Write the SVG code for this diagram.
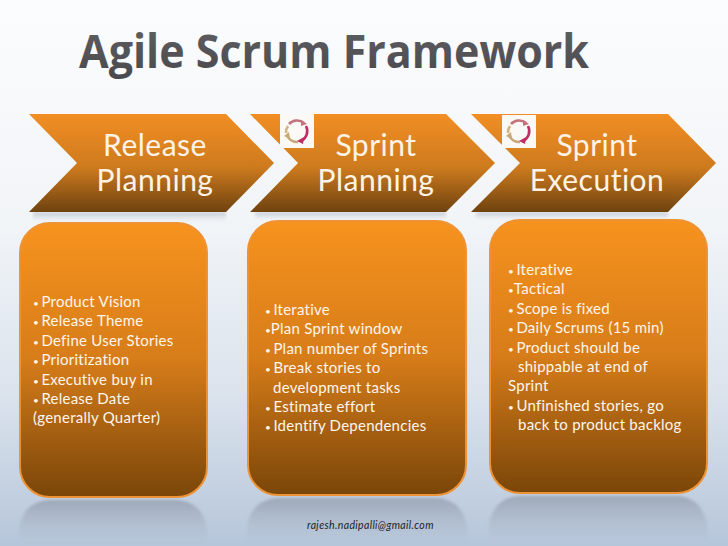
<svg xmlns="http://www.w3.org/2000/svg" width="728" height="546" viewBox="0 0 728 546">
<defs>
<linearGradient id="bg" x1="0" y1="0" x2="0" y2="1"><stop offset="0" stop-color="#fbfcfd"/><stop offset="0.4" stop-color="#f2f5f8"/><stop offset="0.72" stop-color="#dbe3ed"/><stop offset="1" stop-color="#b6c6da"/></linearGradient>
<linearGradient id="chev" x1="0" y1="0" x2="0" y2="1"><stop offset="0" stop-color="#f28e24"/><stop offset="0.55" stop-color="#cd7a1e"/><stop offset="1" stop-color="#6e420f"/></linearGradient>
<linearGradient id="box" x1="0" y1="0" x2="0" y2="1"><stop offset="0" stop-color="#f7931e"/><stop offset="0.5" stop-color="#d67c19"/><stop offset="1" stop-color="#7a4609"/></linearGradient>
<linearGradient id="refl" x1="0" y1="0" x2="0" y2="1"><stop offset="0" stop-color="#8d97a5" stop-opacity="0.7"/><stop offset="1" stop-color="#a9b7ca" stop-opacity="0"/></linearGradient>
<linearGradient id="shadow" x1="0" y1="0" x2="0" y2="1"><stop offset="0" stop-color="#9aa3ae" stop-opacity="0.55"/><stop offset="1" stop-color="#c0c8d2" stop-opacity="0"/></linearGradient>
<linearGradient id="title" x1="0" y1="0" x2="0" y2="1"><stop offset="0" stop-color="#626266"/><stop offset="1" stop-color="#48484c"/></linearGradient>
<filter id="soft" x="-5%" y="-10%" width="110%" height="120%"><feGaussianBlur stdDeviation="1.5"/></filter>
<g id="cycle" fill="none" stroke-width="2.6">
<path d="M-8 -7A11 11 0 0 1 7 -8" stroke="#c4727c"/>
<path d="M9 -5A11 11 0 0 1 4 10" stroke="#bf2f62"/>
<path d="M1 11A11 11 0 0 1 -10 4" stroke="#c9a877"/>
<path d="M-11 2A11 11 0 0 1 -9 -5" stroke="#d3b483"/>
<path d="M4 -11L10 -7L4 -5Z" fill="#c4727c" stroke="none"/>
<path d="M7 6L6 13L0 10Z" fill="#bf2f62" stroke="none"/>
<path d="M-7 8L-13 5L-8 1Z" fill="#c9a877" stroke="none"/>
</g>
</defs>
<style>
.big{font-family:"Lato","Open Sans",sans-serif;font-size:30px;fill:#fdf3e6;text-anchor:middle;letter-spacing:.5px}
.item{font-family:"Lato","Open Sans",sans-serif;font-size:15px;letter-spacing:.25px;fill:#fdf6ec}
.b{font-size:10px;letter-spacing:0}
.mail{font-family:"Lato","Open Sans",sans-serif;font-size:10.5px;font-style:italic;letter-spacing:.35px;fill:#222}
.ttl{font-family:"Open Sans","Noto Sans",sans-serif;font-size:47px;font-weight:700;fill:url(#title)}
.bx{fill:url(#box);stroke:#ee9236;stroke-width:2}
</style>
<rect width="728" height="546" fill="url(#bg)"/>
<text class="ttl" x="79" y="68" textLength="510" lengthAdjust="spacingAndGlyphs">Agile Scrum Framework</text>
<g id="connectors"/>
<g id="reflections" filter="url(#soft)">
<path d="M19 546V530Q22 503 48 500H178Q204 503 207 530V546Z" fill="url(#refl)"/>
<path d="M247 546V528Q250 501 276 498H438Q464 501 467 528V546Z" fill="url(#refl)"/>
<path d="M489 546V526Q492 499 518 496H678Q704 499 707 526V546Z" fill="url(#refl)"/>
<rect x="33" y="212" width="193" height="10" fill="url(#shadow)"/>
<rect x="255" y="212" width="191" height="8" fill="url(#shadow)"/>
<rect x="476" y="212" width="192" height="8" fill="url(#shadow)"/>
</g>
<g id="release-planning">
<path d="M29 114H226L274 163L226 212H29L77 163Z" fill="url(#chev)"/>
<text class="big" x="155" y="156">Release</text>
<text class="big" x="155" y="191">Planning</text>
</g>
<g id="sprint-planning">
<path d="M250 114H446L495 163L446 212H250L298 163Z" fill="url(#chev)"/>
<rect x="280" y="114" width="34" height="34" fill="#fbf9f6"/>
<use href="#cycle" x="297" y="131"/>
<text class="big" x="376" y="156">Sprint</text>
<text class="big" x="376" y="191">Planning</text>
</g>
<g id="sprint-execution">
<path d="M471 114H668L716 163L668 212H471L520 163Z" fill="url(#chev)"/>
<rect x="502" y="115" width="34" height="33" fill="#fbf9f6"/>
<use href="#cycle" x="519" y="131"/>
<text class="big" x="597" y="156">Sprint</text>
<text class="big" x="597" y="191">Execution</text>
</g>
<g id="box-release">
<rect class="bx" x="20" y="223" width="187" height="274" rx="30"/>
<g class="item">
<text x="33" y="307"><tspan class="b">• </tspan>Product Vision</text>
<text x="33" y="326"><tspan class="b">• </tspan>Release Theme</text>
<text x="33" y="346"><tspan class="b">• </tspan>Define User Stories</text>
<text x="33" y="365"><tspan class="b">• </tspan>Prioritization</text>
<text x="33" y="385"><tspan class="b">• </tspan>Executive buy in</text>
<text x="33" y="404"><tspan class="b">• </tspan>Release Date</text>
<text x="33" y="423">(generally Quarter)</text>
</g>
</g>
<g id="box-sprint-planning">
<rect class="bx" x="248" y="221" width="218" height="274" rx="30"/>
<g class="item">
<text x="265" y="315"><tspan class="b">• </tspan>Iterative</text>
<text x="265" y="334"><tspan class="b">•</tspan>Plan Sprint window</text>
<text x="265" y="354"><tspan class="b">• </tspan>Plan number of Sprints</text>
<text x="265" y="373"><tspan class="b">• </tspan>Break stories to</text>
<text x="273" y="393">development tasks</text>
<text x="265" y="412"><tspan class="b">• </tspan>Estimate effort</text>
<text x="265" y="431"><tspan class="b">• </tspan>Identify Dependencies</text>
</g>
</g>
<g id="box-sprint-execution">
<rect class="bx" x="490" y="220" width="217" height="273" rx="30"/>
<g class="item">
<text x="508" y="275"><tspan class="b">• </tspan>Iterative</text>
<text x="508" y="294"><tspan class="b">•</tspan>Tactical</text>
<text x="508" y="314"><tspan class="b">• </tspan>Scope is fixed</text>
<text x="508" y="333"><tspan class="b">• </tspan>Daily Scrums (15 min)</text>
<text x="508" y="353"><tspan class="b">• </tspan>Product should be</text>
<text x="518" y="372">shippable at end of</text>
<text x="508" y="391">Sprint</text>
<text x="508" y="411"><tspan class="b">• </tspan>Unfinished stories, go</text>
<text x="518" y="430">back to product backlog</text>
</g>
</g>
<text class="mail" x="307" y="529">rajesh.nadipalli@gmail.com</text>
</svg>
